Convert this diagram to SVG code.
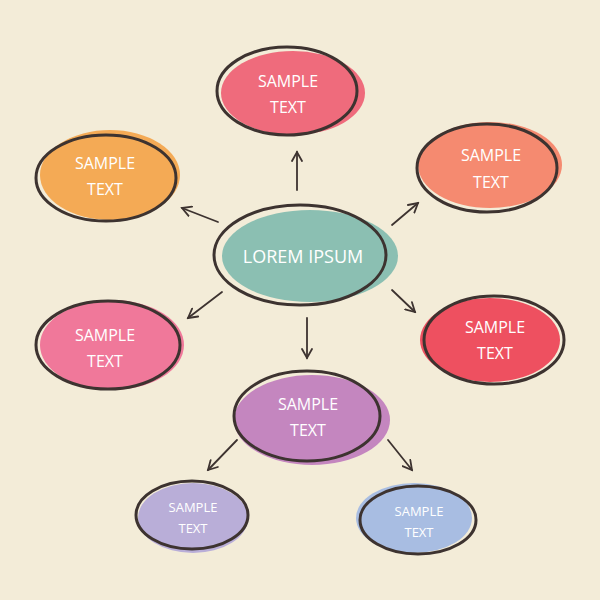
<svg xmlns="http://www.w3.org/2000/svg" width="600" height="600" viewBox="0 0 600 600">
<defs>
<marker id="ah" viewBox="0 0 12 12" refX="10" refY="6" markerWidth="12" markerHeight="12" markerUnits="userSpaceOnUse" orient="auto">
<path d="M1,1 L10,6 L1,11" fill="none" stroke="#3d3330" stroke-width="1.8" stroke-linecap="round"/>
</marker>
</defs>
<style>
.o{fill:none;stroke:#3d3330;stroke-width:3}
.t{fill:#fff;font-family:"Open Sans","Liberation Sans",sans-serif;font-size:16px;text-anchor:middle}
.s{font-size:13px}
.c line{stroke:#3d3330;stroke-width:1.8;stroke-linecap:round;marker-end:url(#ah)}
</style>
<rect width="600" height="600" fill="#f3ecd8"/>
<g class="c" id="connectors">
<line x1="297" y1="190" x2="297" y2="152"/>
<line x1="218" y1="222" x2="182" y2="208"/>
<line x1="392" y1="225" x2="418" y2="203"/>
<line x1="222" y1="292" x2="188" y2="318"/>
<line x1="392" y1="290" x2="415" y2="312"/>
<line x1="307" y1="318" x2="307" y2="358"/>
<line x1="237" y1="440" x2="208" y2="470"/>
<line x1="388" y1="440" x2="412" y2="470"/>
</g>
<g id="center"><ellipse cx="310" cy="256" rx="88" ry="46" fill="#8bbfb2"/><ellipse class="o" cx="300" cy="255" rx="86" ry="50"/><text class="t" x="303" y="263" style="font-size:18px">LOREM IPSUM</text></g>
<g id="top"><ellipse cx="293" cy="93" rx="72" ry="42" fill="#ef6b7c"/><ellipse class="o" cx="287" cy="91" rx="70" ry="44"/><text class="t" x="288" y="87">SAMPLE</text><text class="t" x="288" y="113">TEXT</text></g>
<g id="tl"><ellipse cx="110" cy="175" rx="70" ry="45" fill="#f4aa55"/><ellipse class="o" cx="106" cy="178" rx="70" ry="43"/><text class="t" x="105" y="169">SAMPLE</text><text class="t" x="105" y="195">TEXT</text></g>
<g id="tr"><ellipse cx="490" cy="165" rx="72" ry="43" fill="#f58a70"/><ellipse class="o" cx="487" cy="168" rx="70" ry="44"/><text class="t" x="491" y="161">SAMPLE</text><text class="t" x="491" y="188">TEXT</text></g>
<g id="ml"><ellipse cx="112" cy="345" rx="72" ry="45" fill="#f0789a"/><ellipse class="o" cx="108" cy="345" rx="72" ry="44"/><text class="t" x="105" y="341">SAMPLE</text><text class="t" x="105" y="367">TEXT</text></g>
<g id="mr"><ellipse cx="490" cy="340" rx="70" ry="42" fill="#ee5060"/><ellipse class="o" cx="494" cy="340" rx="70" ry="44"/><text class="t" x="495" y="333">SAMPLE</text><text class="t" x="495" y="359">TEXT</text></g>
<g id="bc"><ellipse cx="312" cy="420" rx="78" ry="45" fill="#c486bf"/><ellipse class="o" cx="307" cy="416" rx="73" ry="45"/><text class="t" x="308" y="410">SAMPLE</text><text class="t" x="308" y="436">TEXT</text></g>
<g id="bl"><ellipse cx="193" cy="518" rx="55" ry="35" fill="#b9aed8"/><ellipse class="o" cx="192" cy="515" rx="56" ry="34"/><text class="t s" x="193" y="512">SAMPLE</text><text class="t s" x="193" y="533">TEXT</text></g>
<g id="br"><ellipse cx="414" cy="518" rx="58" ry="35" fill="#a8bde2"/><ellipse class="o" cx="418" cy="520" rx="58" ry="34"/><text class="t s" x="419" y="516">SAMPLE</text><text class="t s" x="419" y="537">TEXT</text></g>
</svg>
